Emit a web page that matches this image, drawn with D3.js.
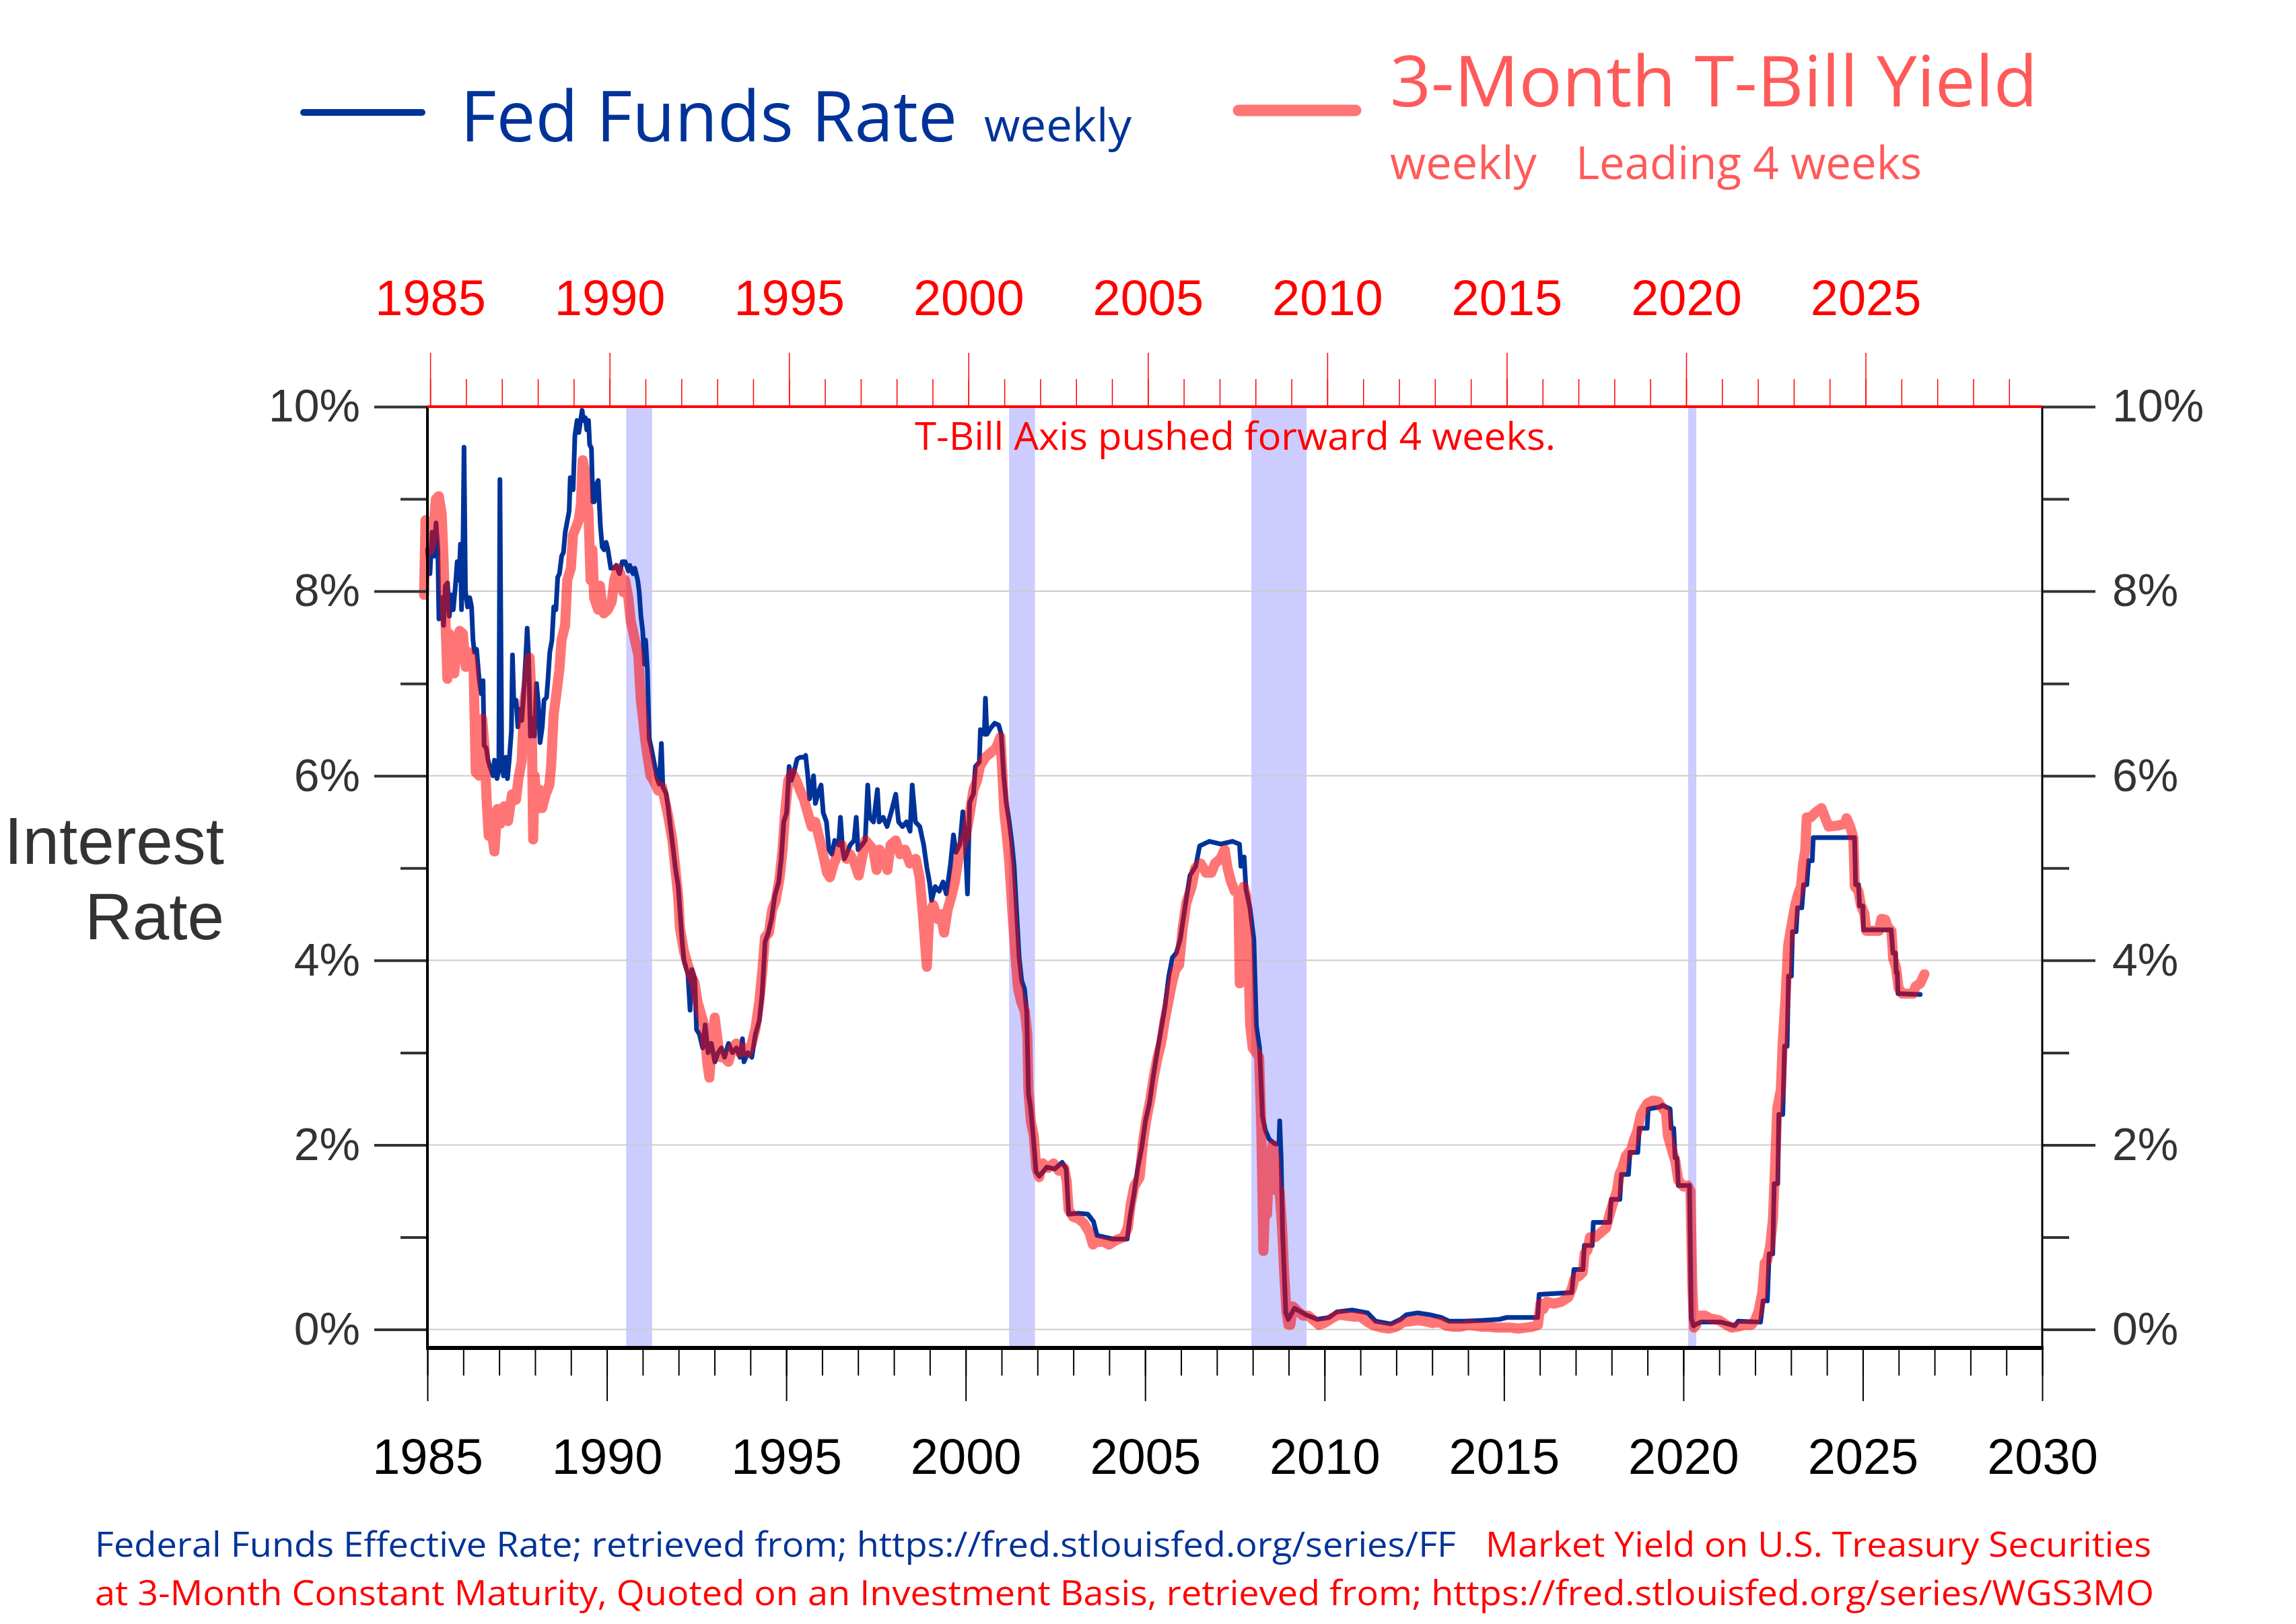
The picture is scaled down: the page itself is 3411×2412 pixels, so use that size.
<!DOCTYPE html>
<html>
<head>
<meta charset="utf-8">
<script src="https://cdn.jsdelivr.net/npm/d3@7"></script>
<style>
  html, body { margin: 0; padding: 0; background: #fff; }
  svg { display: block; }
</style>
</head>
<body>
<div id="chart"></div>
<script>
// Fed funds effective rate, weekly (decimal year, percent)
const fedFunds = [
  [1985.00,8.45],[1985.07,8.19],[1985.13,8.64],[1985.19,8.38],[1985.24,8.74],[1985.29,8.45],[1985.32,7.70],
  [1985.40,7.93],[1985.45,7.63],[1985.50,8.06],[1985.56,8.09],[1985.61,7.73],[1985.67,7.96],[1985.72,7.80],
  [1985.78,8.06],[1985.83,8.32],[1985.88,8.12],[1985.92,8.51],[1985.95,7.80],[1985.99,8.45],[1986.02,9.56],
  [1986.06,8.00],[1986.12,7.83],[1986.18,7.93],[1986.23,7.83],[1986.27,7.47],[1986.31,7.34],[1986.37,7.37],
  [1986.44,7.05],[1986.50,6.89],[1986.55,7.03],[1986.58,6.33],[1986.64,6.30],[1986.69,6.17],[1986.74,6.10],
  [1986.83,6.00],[1986.87,6.17],[1986.94,5.97],[1986.99,6.06],[1987.02,9.21],[1987.07,6.20],[1987.12,6.00],
  [1987.18,6.20],[1987.23,5.97],[1987.28,6.17],[1987.34,6.49],[1987.37,7.31],[1987.41,6.76],[1987.47,6.82],
  [1987.52,6.53],[1987.58,6.72],[1987.63,6.60],[1987.68,6.88],[1987.74,7.28],[1987.78,7.60],[1987.82,7.28],
  [1987.87,6.43],[1987.93,6.62],[1987.98,6.43],[1988.04,7.00],[1988.09,6.79],[1988.14,6.36],[1988.20,6.53],
  [1988.25,6.82],[1988.32,6.85],[1988.36,7.05],[1988.41,7.34],[1988.47,7.47],[1988.52,7.83],[1988.58,7.80],
  [1988.63,8.15],[1988.68,8.19],[1988.74,8.38],[1988.79,8.42],[1988.84,8.64],[1988.95,8.87],[1988.98,9.23],
  [1989.06,9.10],[1989.11,9.69],[1989.17,9.85],[1989.22,9.72],[1989.28,9.88],[1989.31,9.96],[1989.35,9.85],
  [1989.40,9.88],[1989.44,9.75],[1989.49,9.85],[1989.52,9.59],[1989.57,9.55],[1989.61,8.97],[1989.65,8.97],
  [1989.71,9.16],[1989.76,9.20],[1989.79,8.94],[1989.82,8.71],[1989.87,8.48],[1989.92,8.45],[1989.98,8.53],
  [1990.03,8.45],[1990.11,8.25],[1990.19,8.25],[1990.26,8.28],[1990.35,8.19],[1990.43,8.32],[1990.51,8.32],
  [1990.60,8.22],[1990.64,8.28],[1990.73,8.19],[1990.78,8.25],[1990.86,8.12],[1990.90,8.00],[1990.95,7.73],
  [1991.00,7.57],[1991.05,7.21],[1991.08,7.47],[1991.13,7.15],[1991.18,6.40],[1991.24,6.30],[1991.32,6.14],
  [1991.40,5.97],[1991.46,5.91],[1991.52,6.35],[1991.56,5.88],[1991.65,5.81],[1991.70,5.68],[1991.77,5.45],
  [1991.85,5.20],[1991.91,5.00],[1991.99,4.80],[1992.10,4.20],[1992.15,4.00],[1992.26,3.85],[1992.32,3.46],
  [1992.37,3.90],[1992.45,3.80],[1992.50,3.25],[1992.58,3.20],[1992.67,3.05],[1992.74,3.30],[1992.82,3.00],
  [1992.91,3.10],[1993.01,2.90],[1993.10,3.00],[1993.19,3.05],[1993.28,2.95],[1993.39,3.10],[1993.50,3.00],
  [1993.61,3.05],[1993.71,2.95],[1993.78,3.15],[1993.82,2.90],[1993.93,3.00],[1994.04,2.95],[1994.14,3.20],
  [1994.25,3.35],[1994.33,3.65],[1994.41,4.20],[1994.50,4.30],[1994.59,4.45],[1994.68,4.70],[1994.79,4.85],
  [1994.86,5.10],[1994.93,5.50],[1995.01,5.60],[1995.08,6.10],[1995.14,5.95],[1995.22,6.05],[1995.30,6.18],
  [1995.38,6.20],[1995.49,6.20],[1995.54,6.22],[1995.60,6.00],[1995.65,5.75],[1995.76,6.00],[1995.81,5.70],
  [1995.92,5.85],[1995.97,5.90],[1996.03,5.60],[1996.12,5.50],[1996.19,5.20],[1996.27,5.15],[1996.35,5.30],
  [1996.46,5.25],[1996.51,5.55],[1996.57,5.20],[1996.62,5.10],[1996.68,5.15],[1996.78,5.25],[1996.89,5.30],
  [1996.95,5.55],[1997.00,5.20],[1997.11,5.25],[1997.20,5.30],[1997.27,5.90],[1997.32,5.55],[1997.43,5.50],
  [1997.54,5.85],[1997.59,5.50],[1997.70,5.55],[1997.81,5.45],[1997.92,5.60],[1998.05,5.80],[1998.13,5.50],
  [1998.24,5.45],[1998.35,5.50],[1998.45,5.40],[1998.51,5.90],[1998.60,5.50],[1998.72,5.45],[1998.83,5.25],
  [1998.92,5.00],[1998.99,4.85],[1999.05,4.65],[1999.15,4.80],[1999.26,4.75],[1999.37,4.85],[1999.46,4.72],
  [1999.57,5.02],[1999.66,5.36],[1999.73,5.17],[1999.84,5.26],[1999.92,5.61],[1999.98,5.36],[2000.05,4.72],
  [2000.11,5.71],[2000.22,5.81],[2000.27,6.10],[2000.38,6.15],[2000.41,6.50],[2000.52,6.45],[2000.55,6.84],
  [2000.59,6.45],[2000.70,6.52],[2000.81,6.57],[2000.92,6.55],[2000.99,6.45],[2001.06,6.00],[2001.13,5.71],
  [2001.21,5.51],[2001.29,5.26],[2001.35,5.02],[2001.42,4.52],[2001.49,4.03],[2001.56,3.78],[2001.64,3.69],
  [2001.70,3.44],[2001.75,2.55],[2001.81,2.40],[2001.89,2.06],[2001.96,1.71],[2002.05,1.66],[2002.26,1.76],
  [2002.48,1.74],[2002.69,1.81],[2002.80,1.74],[2002.87,1.25],[2003.13,1.26],[2003.40,1.25],[2003.56,1.17],
  [2003.66,1.02],[2004.10,0.98],[2004.50,0.98],[2004.58,1.22],[2004.69,1.47],[2004.80,1.76],[2004.90,1.96],
  [2005.01,2.26],[2005.12,2.45],[2005.23,2.75],[2005.33,2.99],[2005.44,3.24],[2005.55,3.49],[2005.66,3.83],
  [2005.76,4.03],[2005.87,4.08],[2005.98,4.23],[2006.09,4.52],[2006.25,4.92],[2006.41,5.02],[2006.52,5.24],
  [2006.79,5.29],[2007.11,5.26],[2007.43,5.29],[2007.63,5.26],[2007.67,5.02],[2007.76,5.12],[2007.81,4.77],
  [2007.92,4.57],[2008.03,4.23],[2008.10,3.29],[2008.19,3.05],[2008.27,2.31],[2008.35,2.16],[2008.46,2.06],
  [2008.62,2.01],[2008.73,2.01],[2008.75,2.26],[2008.79,1.86],[2008.83,1.07],[2008.88,0.58],[2008.92,0.18],
  [2008.99,0.11],[2009.16,0.23],[2009.48,0.16],[2009.80,0.11],[2010.13,0.13],[2010.34,0.19],[2010.77,0.21],
  [2011.20,0.18],[2011.42,0.09],[2011.85,0.06],[2012.12,0.11],[2012.28,0.16],[2012.60,0.18],[2012.93,0.16],
  [2013.25,0.13],[2013.47,0.09],[2013.90,0.09],[2014.44,0.10],[2014.87,0.11],[2015.08,0.13],[2015.51,0.13],
  [2015.94,0.13],[2015.98,0.38],[2016.89,0.40],[2016.95,0.65],[2017.20,0.65],[2017.24,0.91],[2017.46,0.91],
  [2017.49,1.16],[2017.94,1.16],[2017.99,1.41],[2018.23,1.41],[2018.27,1.68],[2018.47,1.68],[2018.51,1.92],
  [2018.73,1.92],[2018.77,2.18],[2018.99,2.18],[2019.02,2.39],[2019.33,2.41],[2019.42,2.43],[2019.63,2.39],
  [2019.66,2.18],[2019.73,2.18],[2019.77,1.86],[2019.82,1.86],[2019.86,1.56],[2020.17,1.56],[2020.22,0.12],
  [2020.28,0.04],[2020.48,0.08],[2021.05,0.08],[2021.43,0.04],[2021.53,0.09],[2022.15,0.08],[2022.22,0.31],
  [2022.34,0.31],[2022.39,0.82],[2022.49,0.82],[2022.53,1.58],[2022.63,1.58],[2022.66,2.33],[2022.77,2.33],
  [2022.82,3.07],[2022.89,3.07],[2022.93,3.83],[2023.01,3.83],[2023.04,4.31],[2023.14,4.31],[2023.18,4.57],
  [2023.30,4.57],[2023.35,4.82],[2023.44,4.82],[2023.49,5.08],[2023.59,5.08],[2023.62,5.33],[2024.77,5.33],
  [2024.80,4.82],[2024.88,4.82],[2024.91,4.59],[2025.00,4.59],[2025.02,4.33],[2025.79,4.33],[2025.84,4.08],
  [2025.91,4.08],[2025.93,3.87],[2025.96,3.87],[2025.98,3.64],[2026.60,3.63]
];

// 3-month T-bill yield, weekly (decimal year on the T-bill calendar, percent)
const tbill = [
  [1984.83,7.96],[1984.87,8.77],[1984.92,8.71],[1984.99,8.45],[1985.07,8.58],[1985.16,9.00],[1985.24,9.03],
  [1985.32,8.84],[1985.37,8.38],[1985.43,7.63],[1985.48,7.05],[1985.53,7.54],[1985.61,7.28],[1985.67,7.11],
  [1985.75,7.47],[1985.82,7.57],[1985.91,7.54],[1985.99,7.18],[1986.07,7.34],[1986.15,7.28],[1986.21,7.15],
  [1986.27,6.04],[1986.37,6.00],[1986.45,6.62],[1986.51,6.33],[1986.58,5.68],[1986.63,5.35],[1986.71,5.41],
  [1986.79,5.18],[1986.87,5.64],[1986.95,5.48],[1987.06,5.67],[1987.17,5.51],[1987.28,5.80],[1987.39,5.74],
  [1987.46,5.97],[1987.55,6.16],[1987.62,6.80],[1987.70,7.00],[1987.77,7.28],[1987.82,6.90],[1987.87,5.31],
  [1987.91,6.00],[1987.97,5.64],[1988.04,5.85],[1988.12,5.65],[1988.22,5.80],[1988.32,5.90],[1988.37,6.10],
  [1988.44,6.66],[1988.52,6.90],[1988.60,7.15],[1988.66,7.47],[1988.76,7.63],[1988.82,8.12],[1988.92,8.25],
  [1988.98,8.61],[1989.14,8.77],[1989.20,8.94],[1989.25,9.42],[1989.30,9.33],[1989.36,9.00],[1989.41,8.87],
  [1989.47,8.12],[1989.52,8.45],[1989.57,7.93],[1989.68,7.80],[1989.73,8.06],[1989.79,7.86],[1989.84,7.76],
  [1989.95,7.80],[1990.06,7.89],[1990.13,8.12],[1990.22,8.25],[1990.30,8.19],[1990.38,7.99],[1990.43,8.12],
  [1990.52,7.93],[1990.59,7.67],[1990.65,7.57],[1990.74,7.41],[1990.80,7.31],[1990.87,6.82],[1990.92,6.66],
  [1990.99,6.40],[1991.05,6.23],[1991.14,6.00],[1991.24,5.94],[1991.35,5.84],[1991.46,5.88],[1991.57,5.68],
  [1991.64,5.55],[1991.75,5.30],[1991.83,5.00],[1991.91,4.70],[1991.96,4.35],[1992.07,4.10],[1992.18,3.95],
  [1992.29,3.82],[1992.37,3.75],[1992.45,3.55],[1992.56,3.40],[1992.63,3.30],[1992.72,2.90],[1992.78,2.73],
  [1992.85,3.10],[1992.93,3.38],[1993.02,3.10],[1993.09,2.95],[1993.20,2.95],[1993.31,2.90],[1993.42,3.05],
  [1993.53,3.10],[1993.63,3.00],[1993.74,3.05],[1993.85,3.00],[1993.96,3.10],[1994.06,3.25],[1994.17,3.55],
  [1994.26,3.90],[1994.33,4.25],[1994.44,4.30],[1994.53,4.55],[1994.63,4.65],[1994.74,4.90],[1994.82,5.20],
  [1994.89,5.60],[1994.98,5.95],[1995.09,6.03],[1995.20,5.95],[1995.30,5.85],[1995.41,5.75],[1995.52,5.60],
  [1995.63,5.45],[1995.73,5.50],[1995.86,5.30],[1995.95,5.15],[1996.06,4.95],[1996.14,4.90],[1996.25,5.05],
  [1996.36,5.15],[1996.47,5.25],[1996.60,5.10],[1996.70,5.15],[1996.83,5.05],[1996.94,4.92],[1997.03,5.10],
  [1997.13,5.30],[1997.24,5.25],[1997.35,5.20],[1997.44,4.98],[1997.52,5.20],[1997.65,5.10],[1997.74,4.98],
  [1997.83,5.25],[1997.97,5.30],[1998.10,5.15],[1998.23,5.20],[1998.37,5.05],[1998.53,5.10],[1998.64,4.90],
  [1998.73,4.50],[1998.84,3.93],[1998.91,4.50],[1999.02,4.60],[1999.13,4.45],[1999.23,4.50],[1999.32,4.30],
  [1999.42,4.55],[1999.53,4.70],[1999.62,4.85],[1999.72,5.10],[1999.82,5.25],[1999.93,5.35],[2000.04,5.60],
  [2000.14,5.85],[2000.24,5.95],[2000.32,6.10],[2000.47,6.20],[2000.62,6.25],[2000.77,6.30],[2000.89,6.42],
  [2000.95,6.00],[2001.00,5.60],[2001.07,5.35],[2001.14,5.05],[2001.22,4.55],[2001.30,4.10],[2001.38,3.70],
  [2001.47,3.55],[2001.57,3.45],[2001.64,3.20],[2001.67,2.60],[2001.74,2.25],[2001.82,2.10],[2001.89,1.75],
  [2001.97,1.65],[2002.07,1.80],[2002.22,1.75],[2002.37,1.80],[2002.52,1.72],[2002.67,1.75],[2002.74,1.60],
  [2002.79,1.30],[2002.92,1.22],[2003.07,1.20],[2003.22,1.15],[2003.37,1.05],[2003.47,0.92],[2003.57,0.95],
  [2003.77,0.95],[2003.92,0.92],[2004.12,0.97],[2004.32,1.00],[2004.44,1.10],[2004.52,1.35],[2004.62,1.55],
  [2004.77,1.65],[2004.87,2.05],[2004.97,2.30],[2005.07,2.50],[2005.17,2.75],[2005.27,2.95],[2005.37,3.10],
  [2005.47,3.35],[2005.57,3.55],[2005.67,3.75],[2005.77,3.90],[2005.87,3.95],[2005.97,4.35],[2006.07,4.62],
  [2006.22,4.80],[2006.32,5.00],[2006.47,5.05],[2006.62,4.95],[2006.77,4.95],[2006.87,5.05],[2007.02,5.10],
  [2007.14,5.20],[2007.22,5.00],[2007.32,4.85],[2007.42,4.75],[2007.52,4.75],[2007.56,3.75],[2007.60,4.30],
  [2007.67,4.80],[2007.74,4.70],[2007.80,4.00],[2007.85,3.30],[2007.92,3.05],[2008.02,3.00],[2008.10,2.95],
  [2008.16,2.20],[2008.22,0.85],[2008.26,1.30],[2008.32,1.25],[2008.37,1.70],[2008.47,2.00],[2008.54,1.85],
  [2008.60,1.50],[2008.67,1.50],[2008.74,1.10],[2008.80,0.60],[2008.86,0.20],[2008.92,0.05],[2008.97,0.05],
  [2009.04,0.25],[2009.17,0.20],[2009.32,0.15],[2009.47,0.15],[2009.62,0.10],[2009.77,0.05],[2009.92,0.07],
  [2010.12,0.12],[2010.32,0.16],[2010.52,0.15],[2010.72,0.14],[2010.92,0.14],[2011.12,0.08],[2011.32,0.04],
  [2011.52,0.02],[2011.72,0.01],[2011.92,0.03],[2012.12,0.08],[2012.32,0.09],[2012.52,0.10],[2012.72,0.09],
  [2012.92,0.07],[2013.12,0.08],[2013.32,0.04],[2013.52,0.03],[2013.72,0.03],[2013.92,0.05],[2014.12,0.04],
  [2014.32,0.03],[2014.52,0.03],[2014.72,0.02],[2014.92,0.02],[2015.12,0.02],[2015.32,0.01],[2015.52,0.02],
  [2015.72,0.03],[2015.87,0.05],[2015.94,0.28],[2016.02,0.22],[2016.12,0.30],[2016.32,0.28],[2016.52,0.30],
  [2016.72,0.35],[2016.82,0.45],[2016.89,0.55],[2017.02,0.58],[2017.12,0.62],[2017.17,0.82],[2017.25,0.86],
  [2017.32,1.00],[2017.47,1.00],[2017.62,1.05],[2017.77,1.10],[2017.87,1.25],[2017.97,1.38],[2018.07,1.50],
  [2018.14,1.68],[2018.22,1.75],[2018.32,1.88],[2018.47,1.95],[2018.54,2.05],[2018.64,2.15],[2018.74,2.33],
  [2018.84,2.40],[2018.92,2.45],[2019.07,2.48],[2019.22,2.47],[2019.34,2.40],[2019.44,2.35],[2019.49,2.10],
  [2019.60,1.95],[2019.70,1.82],[2019.78,1.62],[2019.92,1.55],[2020.04,1.56],[2020.12,1.50],[2020.17,0.50],
  [2020.22,0.02],[2020.28,0.05],[2020.34,0.15],[2020.52,0.15],[2020.67,0.12],[2020.92,0.10],[2021.12,0.05],
  [2021.27,0.02],[2021.42,0.03],[2021.62,0.05],[2021.82,0.05],[2021.92,0.10],[2022.02,0.20],[2022.12,0.40],
  [2022.19,0.72],[2022.26,0.75],[2022.34,0.90],[2022.42,1.20],[2022.47,1.70],[2022.54,2.40],[2022.64,2.60],
  [2022.69,3.10],[2022.77,3.60],[2022.84,4.15],[2022.90,4.30],[2022.97,4.45],[2023.04,4.60],[2023.12,4.72],
  [2023.20,4.80],[2023.26,5.05],[2023.32,5.20],[2023.36,5.55],[2023.47,5.55],[2023.60,5.60],[2023.77,5.65],
  [2023.87,5.55],[2023.97,5.45],[2024.22,5.46],[2024.42,5.48],[2024.47,5.54],[2024.57,5.45],[2024.66,5.33],
  [2024.70,4.80],[2024.80,4.75],[2024.87,4.60],[2024.97,4.50],[2025.02,4.32],[2025.37,4.32],[2025.44,4.45],
  [2025.55,4.44],[2025.62,4.36],[2025.72,4.32],[2025.77,4.02],[2025.85,3.92],[2025.92,3.70],[2026.02,3.64],
  [2026.32,3.64],[2026.40,3.72],[2026.52,3.75],[2026.64,3.85]
];

// NBER recessions
const recessionStart = [1990.54, 2001.21, 2007.96, 2020.13];
const recessionEnd   = [1991.26, 2001.93, 2009.50, 2020.36];

const leadWeeks = 4;
const rateMajor = [0, 2, 4, 6, 8, 10];
const rateMinor = [1, 3, 5, 7, 9];
const gridRates = [0, 2, 4, 6, 8];
const yearsMajor = d3.range(1985, 2031, 5);
const yearsMinor = d3.range(1985, 2031);
const topYearsMajor = d3.range(1985, 2030, 5);
const topYearsMinor = d3.range(1985, 2030);

const W = 3411, H = 2412;
const plot = {left: 635, right: 3034, top: 604, bottom: 2002};
const axisFont = '"Liberation Sans", Arial, sans-serif';
const textFont = '"Open Sans", "Noto Sans", sans-serif';
const blue = '#003399';

const svg = d3.select('#chart')
  .append('svg')
  .attr('width', W)
  .attr('height', H)
  .style('background', '#fff');

// scales
const x = d3.scaleLinear().domain([1985, 2030]).range([plot.left, plot.right]);
// T-bill axis pushed forward 4 weeks
const xTop = d3.scaleLinear()
  .domain([1985 - leadWeeks / 52, 2030 - leadWeeks / 52])
  .range([plot.left, plot.right]);
const y = d3.scaleLinear().domain([-0.2, 10]).range([plot.bottom, plot.top]);

// recession bars
svg.append('g')
  .selectAll('rect')
  .data(recessionStart)
  .enter()
  .append('rect')
    .attr('x', d => x(d))
    .attr('y', plot.top)
    .attr('width', (d, i) => x(recessionEnd[i]) - x(d))
    .attr('height', plot.bottom - plot.top)
    .attr('fill', '#ccccff');

// gridlines
svg.append('g')
  .selectAll('line')
  .data(gridRates)
  .enter()
  .append('line')
    .attr('x1', plot.left)
    .attr('x2', plot.right)
    .attr('y1', d => y(d))
    .attr('y2', d => y(d))
    .attr('stroke', '#cccccc')
    .attr('stroke-width', 2);

// series
const ffLine = d3.line().x(d => x(d[0])).y(d => y(d[1]));
const tbLine = d3.line().x(d => xTop(d[0])).y(d => y(d[1]));

svg.append('path')
  .datum(fedFunds)
  .attr('d', ffLine)
  .attr('fill', 'none')
  .attr('stroke', blue)
  .attr('stroke-width', 7)
  .attr('stroke-linejoin', 'round')
  .attr('stroke-linecap', 'round');

svg.append('path')
  .datum(tbill)
  .attr('d', tbLine)
  .attr('fill', 'none')
  .attr('stroke', '#ff0000')
  .attr('stroke-opacity', 0.54)
  .attr('stroke-width', 15)
  .attr('stroke-linejoin', 'round')
  .attr('stroke-linecap', 'round');

// helper to style an axis group
function styleAxis(g, color, width, size, fill) {
  g.select('.domain').remove();
  g.selectAll('.tick line').attr('stroke', color).attr('stroke-width', width);
  g.selectAll('.tick text')
    .attr('fill', fill)
    .attr('font-family', axisFont)
    .attr('font-size', size);
}

// bottom axis
svg.append('g')
  .attr('transform', `translate(0,${plot.bottom})`)
  .call(d3.axisBottom(x).tickValues(yearsMinor).tickSize(41).tickFormat(''))
  .call(g => styleAxis(g, '#000', 2, 0, '#000'));
svg.append('g')
  .attr('transform', `translate(0,${plot.bottom})`)
  .call(d3.axisBottom(x).tickValues(yearsMajor).tickSize(79).tickPadding(55).tickFormat(d3.format('d')))
  .call(g => styleAxis(g, '#000', 2, 74, '#000'));

// top axis (T-bill calendar)
svg.append('g')
  .attr('transform', `translate(0,${plot.top})`)
  .call(d3.axisTop(xTop).tickValues(topYearsMinor).tickSize(41).tickFormat(''))
  .call(g => styleAxis(g, '#ff0000', 1.5, 0, '#ff0000'));
svg.append('g')
  .attr('transform', `translate(0,${plot.top})`)
  .call(d3.axisTop(xTop).tickValues(topYearsMajor).tickSize(80).tickPadding(56).tickFormat(d3.format('d')))
  .call(g => styleAxis(g, '#ff0000', 1.5, 74, '#ff0000'));

// left axis
svg.append('g')
  .attr('transform', `translate(${plot.left},0)`)
  .call(d3.axisLeft(y).tickValues(rateMinor).tickSize(40).tickFormat(''))
  .call(g => styleAxis(g, '#333', 4, 0, '#333'));
svg.append('g')
  .attr('transform', `translate(${plot.left},0)`)
  .call(d3.axisLeft(y).tickValues(rateMajor).tickSize(79).tickPadding(21).tickFormat(d => d + '%'))
  .call(g => styleAxis(g, '#333', 4, 68, '#333'));

// right axis
svg.append('g')
  .attr('transform', `translate(${plot.right},0)`)
  .call(d3.axisRight(y).tickValues(rateMinor).tickSize(40).tickFormat(''))
  .call(g => styleAxis(g, '#333', 4, 0, '#333'));
svg.append('g')
  .attr('transform', `translate(${plot.right},0)`)
  .call(d3.axisRight(y).tickValues(rateMajor).tickSize(79).tickPadding(25).tickFormat(d => d + '%'))
  .call(g => styleAxis(g, '#333', 4, 68, '#333'));

// frame
svg.append('line')
  .attr('x1', plot.left).attr('x2', plot.left)
  .attr('y1', plot.top).attr('y2', plot.bottom)
  .attr('stroke', '#000').attr('stroke-width', 4);
svg.append('line')
  .attr('x1', plot.right).attr('x2', plot.right)
  .attr('y1', plot.top).attr('y2', plot.bottom)
  .attr('stroke', '#000').attr('stroke-width', 3);
svg.append('line')
  .attr('x1', plot.left - 2).attr('x2', plot.right + 2)
  .attr('y1', plot.bottom).attr('y2', plot.bottom)
  .attr('stroke', '#000').attr('stroke-width', 6);
svg.append('line')
  .attr('x1', plot.left).attr('x2', plot.right)
  .attr('y1', plot.top).attr('y2', plot.top)
  .attr('stroke', '#ff0000').attr('stroke-width', 4);

// y axis title
const yTitle = svg.append('g')
  .attr('font-family', axisFont)
  .attr('font-size', 98)
  .attr('fill', '#333')
  .attr('text-anchor', 'end');
yTitle.append('text').attr('x', 333).attr('y', 1283).text('Interest');
yTitle.append('text').attr('x', 333).attr('y', 1395).text('Rate');

// note under top axis
svg.append('text')
  .attr('x', 1359).attr('y', 668)
  .attr('font-family', textFont)
  .attr('font-size', 56)
  .attr('fill', '#ff0000')
  .attr('textLength', 952)
  .attr('lengthAdjust', 'spacingAndGlyphs')
  .text('T-Bill Axis pushed forward 4 weeks.');

// legend
svg.append('line')
  .attr('x1', 451).attr('x2', 627)
  .attr('y1', 167).attr('y2', 167)
  .attr('stroke', blue).attr('stroke-width', 10)
  .attr('stroke-linecap', 'round');
svg.append('line')
  .attr('x1', 1840).attr('x2', 2014)
  .attr('y1', 164).attr('y2', 164)
  .attr('stroke', '#ff0000').attr('stroke-opacity', 0.54)
  .attr('stroke-width', 17)
  .attr('stroke-linecap', 'round');

const legendText = [
  {t: 'Fed Funds Rate', x: 684, y: 210, s: 104, w: 738, c: blue},
  {t: 'weekly', x: 1462, y: 210, s: 68, w: 219, c: blue},
  {t: '3-Month T-Bill Yield', x: 2065, y: 158, s: 104, w: 962, c: '#ff5a5a'},
  {t: 'weekly', x: 2065, y: 266, s: 68, w: 218, c: '#ff5a5a'},
  {t: 'Leading 4 weeks', x: 2341, y: 266, s: 68, w: 514, c: '#ff5a5a'}
];
svg.append('g')
  .selectAll('text')
  .data(legendText)
  .enter()
  .append('text')
    .attr('x', d => d.x)
    .attr('y', d => d.y)
    .attr('font-family', textFont)
    .attr('font-size', d => d.s)
    .attr('fill', d => d.c)
    .attr('textLength', d => d.w)
    .attr('lengthAdjust', 'spacingAndGlyphs')
    .text(d => d.t);

// sources
const sources = [
  {t: 'Federal Funds Effective Rate; retrieved from; https://fred.stlouisfed.org/series/FF', x: 141, y: 2312, w: 2022, c: blue},
  {t: 'Market Yield on U.S. Treasury Securities', x: 2207, y: 2312, w: 989, c: '#ff0000'},
  {t: 'at 3-Month Constant Maturity, Quoted on an Investment Basis, retrieved from; https://fred.stlouisfed.org/series/WGS3MO', x: 141, y: 2384, w: 3059, c: '#ff0000'}
];
svg.append('g')
  .selectAll('text')
  .data(sources)
  .enter()
  .append('text')
    .attr('x', d => d.x)
    .attr('y', d => d.y)
    .attr('font-family', textFont)
    .attr('font-size', 52)
    .attr('fill', d => d.c)
    .attr('textLength', d => d.w)
    .attr('lengthAdjust', 'spacingAndGlyphs')
    .text(d => d.t);
</script>
</body>
</html>
